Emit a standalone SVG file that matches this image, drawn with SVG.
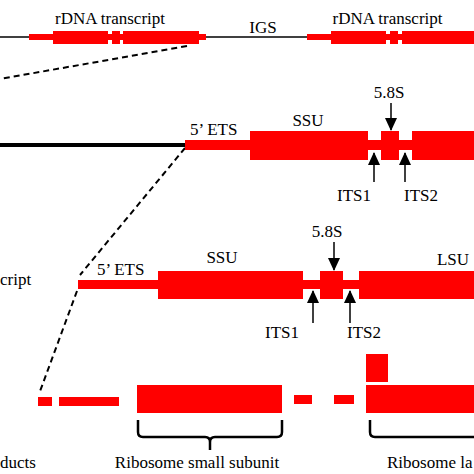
<svg xmlns="http://www.w3.org/2000/svg" width="474" height="474" viewBox="0 0 474 474">
<style>
.r{fill:#ff0000}
.t{font-family:"Liberation Serif","Times New Roman",serif;font-size:17px;fill:#000}
.m{text-anchor:middle}
.d{stroke:#000;stroke-width:2;stroke-dasharray:6 4;fill:none}
.a{stroke:#000;stroke-width:1.5;fill:none}
.b{stroke:#000;stroke-width:2.5;fill:none}
</style>
<defs>
<marker id="ah" viewBox="0 0 13 12" refX="12" refY="6" markerWidth="13" markerHeight="12" markerUnits="userSpaceOnUse" orient="auto">
<path d="M0,0 L13,6 L0,12 Z" fill="#000"/>
</marker>
</defs>
<rect width="474" height="474" fill="#fff"/>

<g id="connectors">
<line class="d" x1="187" y1="46" x2="0" y2="79"/>
<line class="d" x1="185" y1="148" x2="80" y2="275"/>
<line class="d" x1="77" y1="291" x2="39" y2="394"/>
<line class="a" x1="391" y1="103" x2="391" y2="130" marker-end="url(#ah)"/>
<line class="a" x1="374" y1="182" x2="374" y2="153" marker-end="url(#ah)"/>
<line class="a" x1="405" y1="182" x2="405" y2="153" marker-end="url(#ah)"/>
<line class="a" x1="334" y1="242" x2="334" y2="270" marker-end="url(#ah)"/>
<line class="a" x1="313" y1="323" x2="313" y2="291" marker-end="url(#ah)"/>
<line class="a" x1="350" y1="323" x2="350" y2="291" marker-end="url(#ah)"/>
</g>

<g id="row1">
<line x1="0" y1="37" x2="29" y2="37" stroke="#000" stroke-width="1.5"/>
<line x1="206" y1="37" x2="307" y2="37" stroke="#000" stroke-width="1.5"/>
<rect class="r" x="29" y="34" width="177" height="6"/>
<rect class="r" x="53" y="31" width="55" height="13"/>
<rect class="r" x="112" y="31" width="8" height="13"/>
<rect class="r" x="123" y="31" width="76" height="13"/>
<rect class="r" x="307" y="34" width="167" height="6"/>
<rect class="r" x="331" y="31" width="55" height="13"/>
<rect class="r" x="390" y="31" width="8" height="13"/>
<rect class="r" x="402" y="31" width="72" height="13"/>
<text class="t m" x="110" y="24">rDNA transcript</text>
<text class="t m" x="263" y="33">IGS</text>
<text class="t m" x="387.5" y="24">rDNA transcript</text>
</g>

<g id="row2">
<line x1="0" y1="145" x2="186" y2="145" stroke="#000" stroke-width="4"/>
<rect class="r" x="185" y="140" width="289" height="10"/>
<rect class="r" x="250" y="131" width="118" height="29"/>
<rect class="r" x="381" y="131" width="18" height="29"/>
<rect class="r" x="412" y="131" width="62" height="29"/>
<text class="t" x="190" y="135">5’ ETS</text>
<text class="t m" x="308" y="126">SSU</text>
<text class="t m" x="389" y="98">5.8S</text>
<text class="t m" x="354" y="201">ITS1</text>
<text class="t m" x="421" y="201">ITS2</text>
</g>

<g id="row3">
<rect class="r" x="78" y="280" width="396" height="9"/>
<rect class="r" x="158" y="271" width="145" height="28"/>
<rect class="r" x="320" y="271" width="23" height="28"/>
<rect class="r" x="359" y="271" width="115" height="28"/>
<text class="t" x="0" y="285">cript</text>
<text class="t" x="97" y="275">5’ ETS</text>
<text class="t m" x="222" y="263">SSU</text>
<text class="t m" x="327" y="237">5.8S</text>
<text class="t m" x="453" y="265">LSU</text>
<text class="t m" x="282" y="338">ITS1</text>
<text class="t m" x="364" y="338">ITS2</text>
</g>

<g id="row4">
<rect class="r" x="38" y="397" width="14" height="9"/>
<rect class="r" x="59" y="397" width="60" height="9"/>
<rect class="r" x="137" y="385" width="145" height="28"/>
<rect class="r" x="294" y="395" width="18" height="9"/>
<rect class="r" x="334" y="395" width="20" height="9"/>
<rect class="r" x="366" y="354" width="22" height="28"/>
<rect class="r" x="366" y="385" width="108" height="28"/>
<path class="b" d="M138,420 L138,432 Q138,437 143,437 L205,437 Q210,437 210,442 L210,450 M210,442 Q210,437 215,437 L277,437 Q282,437 282,432 L282,420"/>
<path class="b" d="M370,420 L370,432 Q370,437 375,437 L474,437"/>
<text class="t" x="0" y="468">ducts</text>
<text class="t m" x="197" y="468">Ribosome small subunit</text>
<text class="t" x="387" y="468">Ribosome la</text>
</g>
</svg>
